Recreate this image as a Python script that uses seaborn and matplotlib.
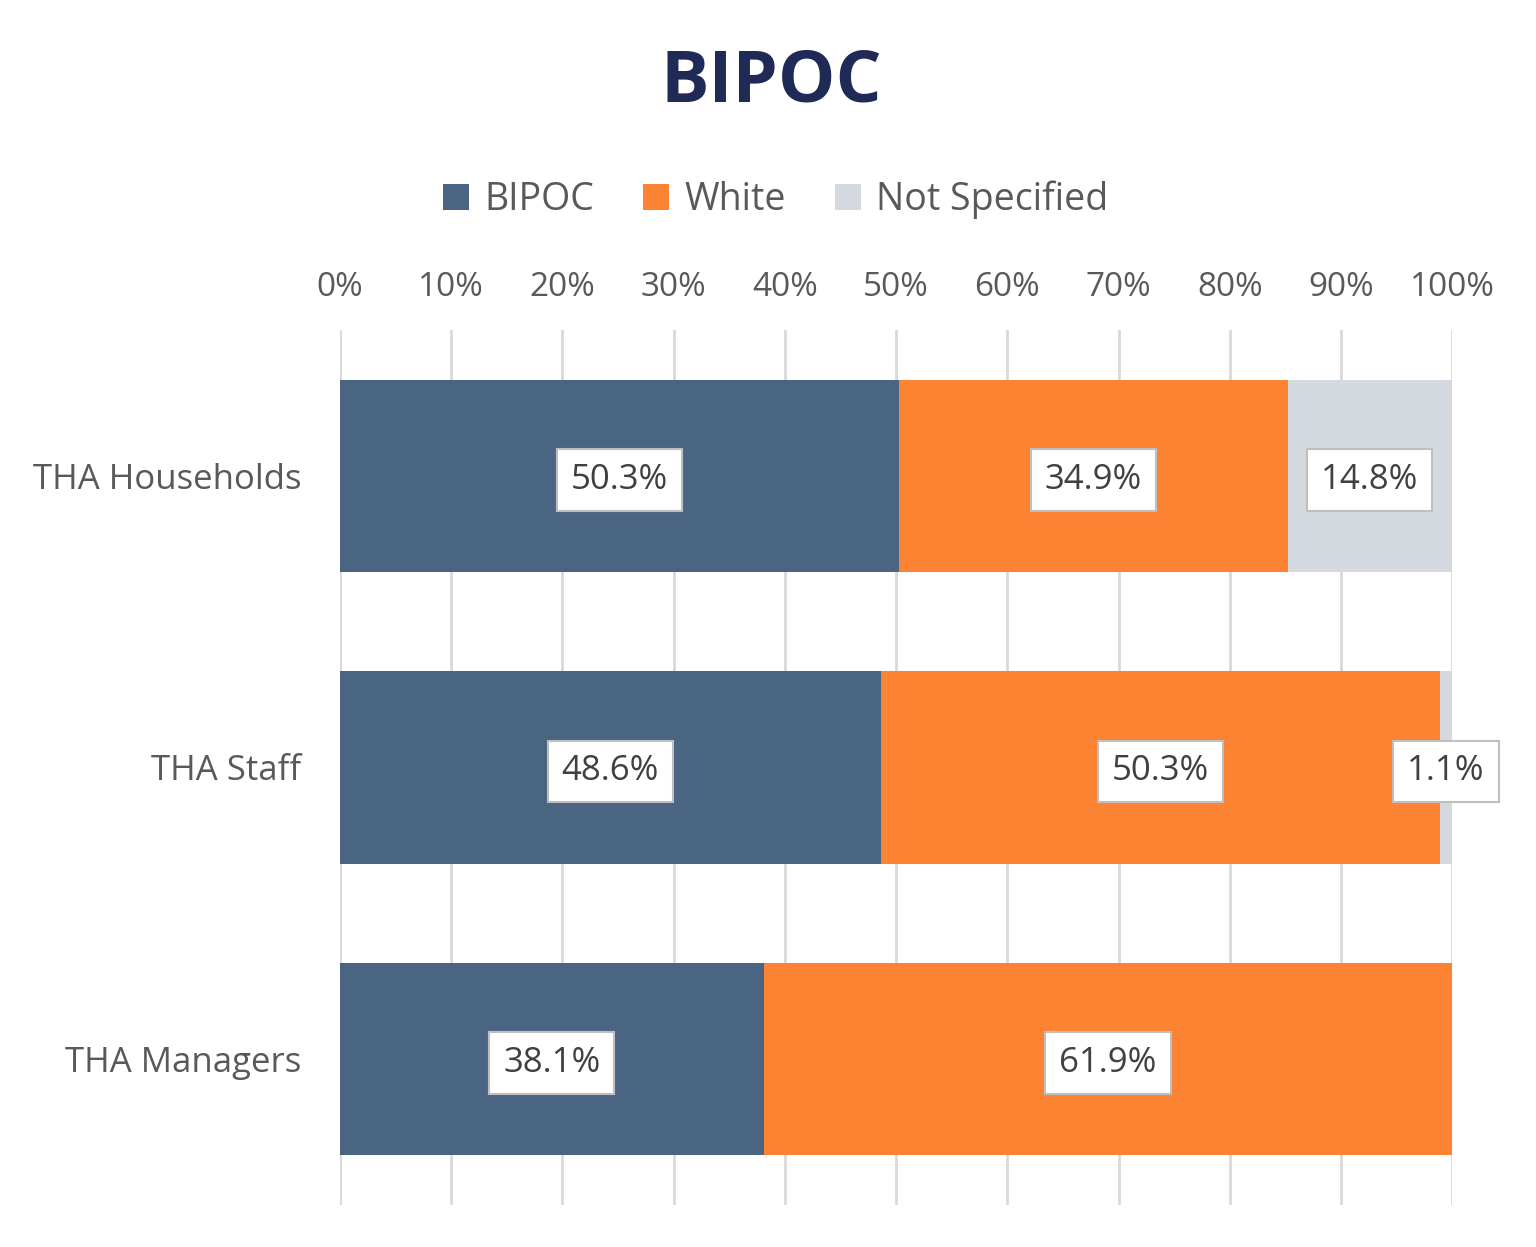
import matplotlib
matplotlib.use("Agg")
import matplotlib.pyplot as plt
import numpy as np
import pandas as pd
import seaborn as sns
from matplotlib.patches import Patch

groups = ["THA Households", "THA Staff", "THA Managers"]
bipoc = [50.3, 48.6, 38.1]
white = [34.9, 50.3, 61.9]
not_specified = [14.8, 1.1, 0.0]

series_names = ["BIPOC", "White", "Not Specified"]
colors = ["#4A6582", "#FB8332", "#D4D9E0"]
text_grey = "#595959"

sns.set_theme(style="white")
plt.rcParams["font.family"] = ["Open Sans", "DejaVu Sans"]

df = pd.DataFrame({"group": groups, "BIPOC": bipoc, "White": white,
                   "Not Specified": not_specified})
cum = df[series_names].cumsum(axis=1)

fig = plt.figure(figsize=(15.36, 12.47), dpi=100)
ax = fig.add_axes([0.2214, 0.0337, 0.7240, 0.7017])

# stacked bars: draw the cumulative totals from the back to the front
for name, color in reversed(list(zip(series_names, colors))):
    sns.barplot(x=cum[name], y=df["group"], orient="h", color=color,
                saturation=1, width=0.66, linewidth=0, ax=ax, zorder=2)

# segment labels
starts = cum.shift(1, axis=1).fillna(0)
for i, row in df.iterrows():
    for name in series_names:
        val = row[name]
        if val <= 0:
            continue
        mid = starts.loc[i, name] + val / 2
        ax.text(mid, i, f"{val:.1f}%", ha="center", va="center_baseline",
                fontsize=25, color="#404040", zorder=5,
                bbox=dict(boxstyle="square,pad=0.4", facecolor="white",
                          edgecolor="#BFBFBF", linewidth=1.5))

ax.set_xlim(0, 100)
ax.set_ylim(2.5, -0.5)
ax.set_xticks(np.arange(0, 101, 10))
ax.set_xticklabels([f"{t}%" for t in range(0, 101, 10)])
ax.xaxis.tick_top()
ax.tick_params(axis="x", labelsize=24, labelcolor=text_grey, length=0, pad=19)
ax.tick_params(axis="y", labelsize=25, labelcolor=text_grey, length=0, pad=28)
ax.grid(axis="x", color="#D9D9D9", linewidth=2, zorder=0)
ax.set_axisbelow(True)
ax.set_xlabel("")
ax.set_ylabel("")
for s in ax.spines.values():
    s.set_visible(False)

handles = [Patch(facecolor=c, edgecolor="none", label=n)
           for n, c in zip(series_names, colors)]
fig.legend(handles=handles, loc="center", bbox_to_anchor=(0.505, 0.840),
           ncol=3, frameon=False, fontsize=27, labelcolor=text_grey,
           handlelength=0.7, handleheight=0.7, handletextpad=0.4,
           columnspacing=1.3)

fig.text(0.502, 0.934, "BIPOC", ha="center", va="center", fontsize=52,
         fontweight="bold", color="#1F2A56")

fig.savefig("out.png", dpi=100)
